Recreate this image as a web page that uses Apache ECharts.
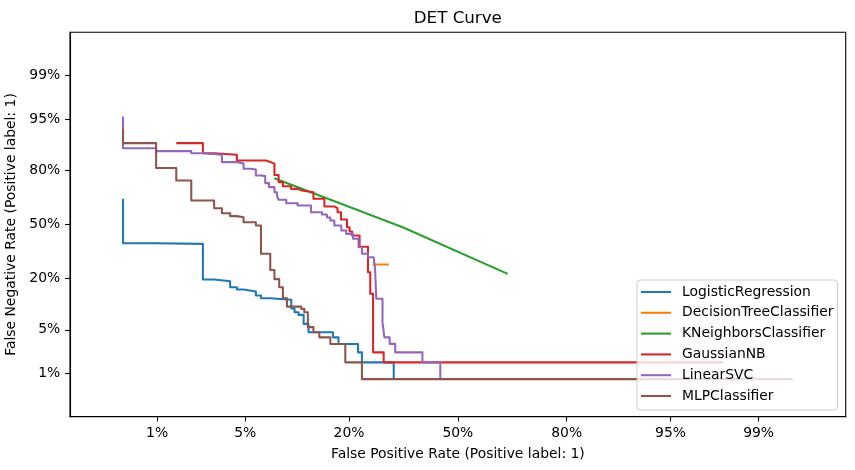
<!DOCTYPE html>
<html>
<head>
<meta charset="utf-8">
<script src="https://cdn.jsdelivr.net/npm/echarts@6/dist/echarts.min.js"></script>
<style>html,body{margin:0;padding:0;background:#fff;}#chart{width:855px;height:470px;}</style>
</head>
<body>
<div id="chart"></div>
<script>
// Rates in percent: [False Positive Rate %, False Negative Rate %]
const logisticRegression = [[0.48,65.6],[0.48,38.5],[0.98,38.5],[0.98,38.1],[2.43,38.1],[2.43,19.5],[2.97,19.5],[2.97,18.8],[3.91,18.8],[3.91,16.4],[4.37,16.4],[4.37,15.5],[4.87,15.5],[4.87,14.8],[5.91,14.8],[5.91,13.4],[6.39,13.4],[6.39,12.5],[7.34,12.5],[7.34,12.0],[9.88,12.0],[9.88,9.5],[10.33,9.5],[10.33,8.53],[10.9,8.53],[10.9,7.91],[11.65,7.91],[11.65,6.04],[12.4,6.04],[12.4,4.62],[16.7,4.62],[16.7,3.91],[17.8,3.91],[17.8,3.1],[22.0,3.1],[22.0,2.3],[22.9,2.3],[22.9,1.57],[31.0,1.57],[31.0,0.79]];
const decisionTree = [[25.5,26.6],[29.7,26.6]];
const kNeighbors = [[7.78,76.5],[33.65,48.1],[65.0,22.06]];
const gaussianNB = [[1.47,89.8],[2.43,89.8],[2.43,86.7],[2.97,86.7],[2.97,86.2],[4.37,86.2],[4.37,84.1],[6.88,84.1],[6.88,83.5],[7.34,83.5],[7.34,82.9],[7.8,82.9],[7.8,78.0],[8.28,78.0],[8.28,74.6],[8.8,74.6],[8.8,72.5],[9.84,72.5],[9.84,71.1],[10.8,71.1],[10.8,70.2],[11.4,70.2],[11.4,69.3],[13.2,69.3],[13.2,65.6],[15.1,65.6],[15.1,61.1],[16.96,61.1],[16.96,60.0],[17.6,60.0],[17.6,57.6],[18.3,57.6],[18.3,53.1],[19.56,53.1],[19.56,48.3],[20.12,48.3],[20.12,45.6],[20.66,45.6],[20.66,43.2],[22.36,43.2],[22.36,36.4],[24.35,36.4],[24.35,22.8],[24.9,22.8],[24.9,14.0],[25.6,14.0],[25.6,2.3],[28.3,2.3],[28.3,1.57],[98.0,1.57]];
const linearSVC = [[0.48,95.4],[0.48,88.3],[0.98,88.3],[0.98,87.4],[1.96,87.4],[1.96,86.7],[2.43,86.7],[2.43,86.2],[3.40,86.2],[3.40,83.5],[4.37,83.5],[4.37,82.9],[4.87,82.9],[4.87,80.8],[5.41,80.8],[5.41,80.5],[5.91,80.5],[5.91,77.8],[6.39,77.8],[6.39,77.5],[6.81,77.5],[6.81,74.1],[7.2,74.1],[7.2,72.0],[7.8,72.0],[7.8,69.3],[8.09,69.3],[8.09,67.5],[8.27,67.5],[8.27,65.0],[9.22,65.0],[9.22,63.0],[10.75,63.0],[10.75,61.7],[12.8,61.7],[12.8,57.6],[14.66,57.6],[14.66,56.2],[15.57,56.2],[15.57,54.35],[16.19,54.35],[16.19,52.5],[16.96,52.5],[16.96,49.4],[18.36,49.4],[18.36,46.3],[19.4,46.3],[19.4,44.2],[20.87,44.2],[20.87,41.2],[22.13,41.2],[22.13,36.1],[22.92,36.1],[22.92,32.4],[24.35,32.4],[24.35,30.5],[25.73,30.5],[25.73,29.6],[26.1,29.6],[26.1,24.45],[26.4,24.45],[26.4,12.3],[28.0,12.3],[28.0,6.34],[28.5,6.34],[28.5,3.91],[29.9,3.91],[29.9,3.12],[31.4,3.12],[31.4,2.3],[39.2,2.3],[39.2,1.57],[44.6,1.57],[44.6,0.79]];
const mlp = [[0.48,93.1],[0.48,89.8],[0.98,89.8],[0.98,81.1],[1.47,81.1],[1.47,75.4],[1.96,75.4],[1.96,64.6],[2.97,64.6],[2.97,60.0],[3.40,60.0],[3.40,57.0],[3.91,57.0],[3.91,55.2],[4.37,55.2],[4.37,54.5],[4.87,54.5],[4.87,51.4],[5.91,51.4],[5.91,49.4],[6.39,49.4],[6.39,32.4],[7.34,32.4],[7.34,23.9],[7.8,23.9],[7.8,19.7],[8.35,19.7],[8.35,16.4],[8.8,16.4],[8.8,12.5],[9.31,12.5],[9.31,10.0],[11.3,10.0],[11.3,9.39],[11.74,9.39],[11.74,8.53],[12.3,8.53],[12.3,5.46],[13.2,5.46],[13.2,4.62],[14.2,4.62],[14.2,3.91],[16.2,3.91],[16.2,3.1],[19.2,3.1],[19.2,1.57],[22.9,1.57],[22.9,0.79],[99.52,0.79]];

const seriesNames = ['LogisticRegression','DecisionTreeClassifier','KNeighborsClassifier','GaussianNB','LinearSVC','MLPClassifier'];
const seriesData = [logisticRegression, decisionTree, kNeighbors, gaussianNB, linearSVC, mlp];
const colors = ['#1f77b4','#ff7f0e','#2ca02c','#d62728','#9467bd','#8c564b'];
const tickProbs = [0.001, 0.01, 0.05, 0.20, 0.5, 0.80, 0.95, 0.99, 0.999];
const tickLabels = ['0.1%','1%','5%','20%','50%','80%','95%','99%','99.9%'];

// inverse standard normal CDF (probit)
function ppf(p){
  const a=[-3.969683028665376e+01,2.209460984245205e+02,-2.759285104469687e+02,1.383577518672690e+02,-3.066479806614716e+01,2.506628277459239e+00];
  const b=[-5.447609879822406e+01,1.615858368580409e+02,-1.556989798598866e+02,6.680131188771972e+01,-1.328068155288572e+01];
  const c=[-7.784894002430293e-03,-3.223964580411365e-01,-2.400758277161838e+00,-2.549732539343734e+00,4.374664141464968e+00,2.938163982698783e+00];
  const d=[7.784695709041462e-03,3.224671290700398e-01,2.445134137142996e+00,3.754408661907416e+00];
  const pl=0.02425, ph=1-pl;
  let q,r;
  if(p<pl){q=Math.sqrt(-2*Math.log(p));return (((((c[0]*q+c[1])*q+c[2])*q+c[3])*q+c[4])*q+c[5])/((((d[0]*q+d[1])*q+d[2])*q+d[3])*q+1);}
  if(p<=ph){q=p-0.5;r=q*q;return (((((a[0]*r+a[1])*r+a[2])*r+a[3])*r+a[4])*r+a[5])*q/(((((b[0]*r+b[1])*r+b[2])*r+b[3])*r+b[4])*r+1);}
  q=Math.sqrt(-2*Math.log(1-p));return -(((((c[0]*q+c[1])*q+c[2])*q+c[3])*q+c[4])*q+c[5])/((((d[0]*q+d[1])*q+d[2])*q+d[3])*q+1);
}

const tickLocs = tickProbs.map(ppf);
const visibleTicks = tickLocs.filter(v => v >= -3 && v <= 3);
function tickFmt(v){
  let best = 0, bd = Infinity;
  tickLocs.forEach((t,i)=>{ const dd=Math.abs(t-v); if(dd<bd){bd=dd;best=i;} });
  return tickLabels[best];
}

const FONT = 'DejaVu Sans';
function makeAxis(name, nameGap){
  return {
    type: 'value', min: -3, max: 3,
    name: name, nameLocation: 'middle', nameGap: nameGap,
    nameTextStyle: {fontFamily: FONT, fontSize: 13.9, color: '#000'},
    axisLine: {show: true, onZero: false, lineStyle: {color: '#000', width: 1.1}},
    axisTick: {show: true, inside: false, length: 4.9, lineStyle: {color: '#000', width: 1.1}, customValues: visibleTicks},
    axisLabel: {show: true, margin: 9.8, fontFamily: FONT, fontSize: 13.9, color: '#000', customValues: visibleTicks, formatter: tickFmt},
    splitLine: {show: false}
  };
}

const chart = echarts.init(document.getElementById('chart'), null, {renderer: 'canvas'});
chart.setOption({
  animation: false,
  backgroundColor: '#fff',
  title: {
    text: 'DET Curve', left: 457.8, top: 10.5, textAlign: 'center', padding: 0,
    textStyle: {fontFamily: FONT, fontSize: 16.7, fontWeight: 'normal', color: '#000'}
  },
  grid: {left: 70, right: 9.3, top: 32.3, bottom: 53.3, show: true, borderColor: '#000', borderWidth: 1.1, backgroundColor: 'transparent', containLabel: false, outerBoundsMode: 'none'},
  xAxis: makeAxis('False Positive Rate (Positive label: 1)', 31),
  yAxis: makeAxis('False Negative Rate (Positive label: 1)', 41),
  legend: {
    orient: 'vertical', left: 637, top: 280,
    padding: [5, 4, 7, 4],
    itemWidth: 30, itemHeight: 14, itemGap: 6.8,
    icon: 'path://M0,0 L30,0 L30,2.08 L0,2.08 Z',
    backgroundColor: 'rgba(255,255,255,0.8)', borderColor: '#cccccc', borderWidth: 1, borderRadius: 3,
    textStyle: {fontFamily: FONT, fontSize: 13.9, color: '#000', padding: [0,0,0,6]},
    data: seriesNames
  },
  series: seriesNames.map((n, i) => ({
    name: n, type: 'line', symbol: 'none', showSymbol: false,
    data: seriesData[i].map(p => [ppf(p[0]/100), ppf(p[1]/100)]),
    lineStyle: {color: colors[i], width: 2.08, join: 'round'},
    itemStyle: {color: colors[i]},
    emphasis: {disabled: true},
    clip: true, z: 2 + i * 0.01
  }))
});
</script>
</body>
</html>
